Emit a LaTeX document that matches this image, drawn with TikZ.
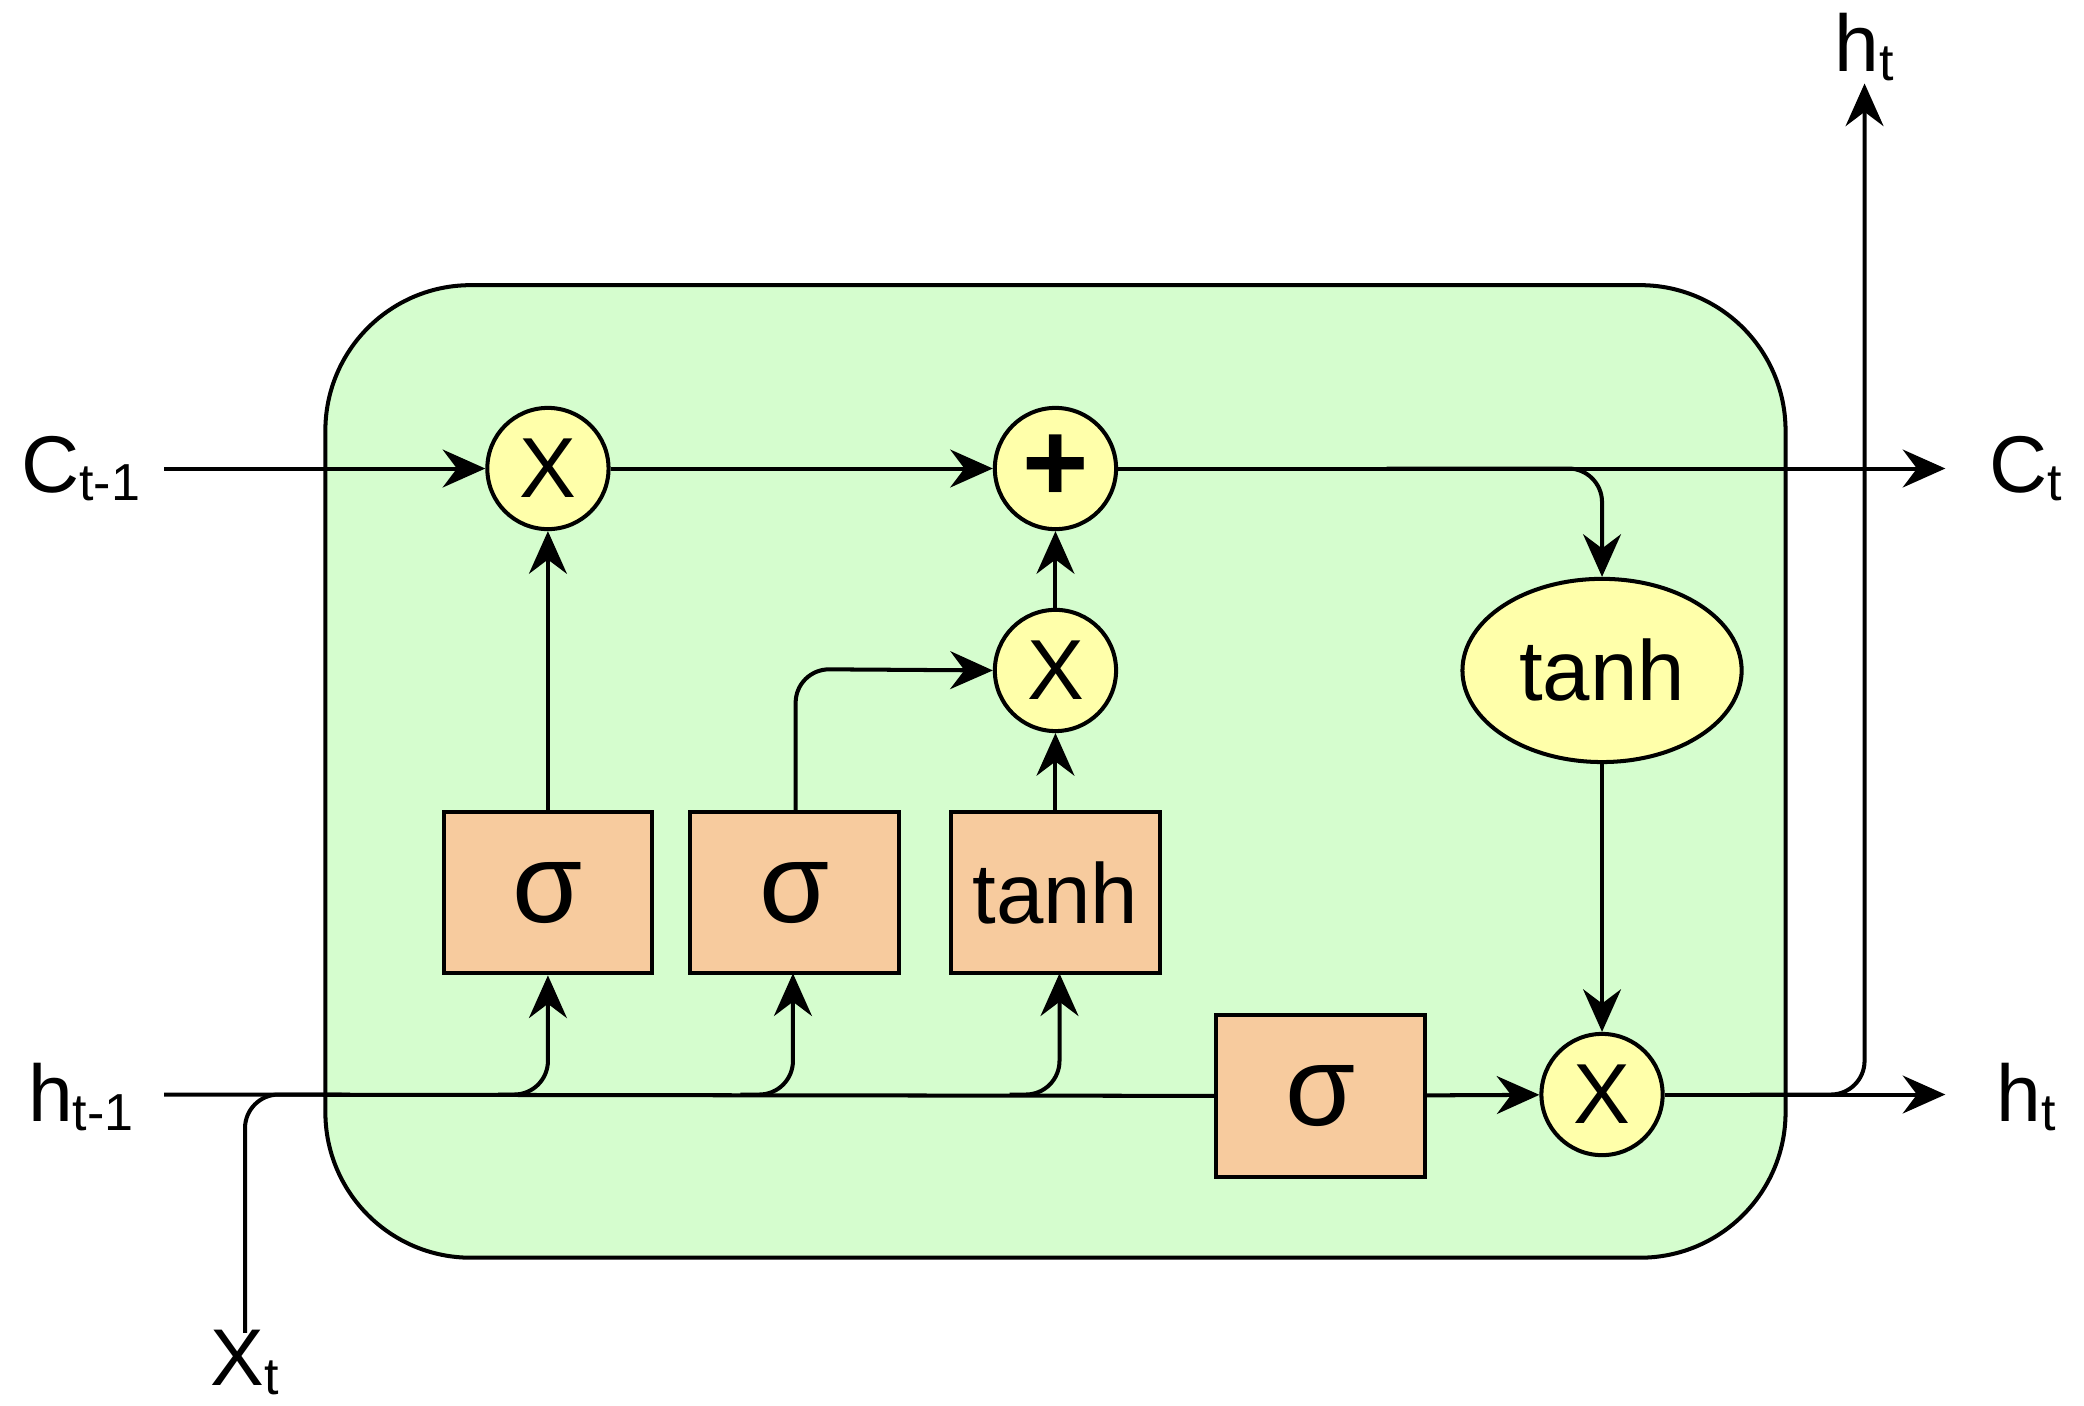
\documentclass[tikz,border=0pt]{standalone}
\usepackage{fontspec}
\setmainfont{Liberation Sans}
\usetikzlibrary{arrows.meta,shapes.geometric}
\definecolor{cellg}{HTML}{D5FDCE}
\definecolor{opy}{HTML}{FFFFAA}
\definecolor{gate}{HTML}{F7CB9E}
\newcommand{\sbs}[1]{\raisebox{-0.2ex}{\fontsize{11}{12}\selectfont #1}}
\begin{document}
\begin{tikzpicture}[x=0.01cm,y=-0.01cm,
  line width=0.85pt,
  ar/.style={-{Stealth[length=9pt,width=8pt,inset=3pt]}},
  op/.style={circle,draw,fill=opy,minimum size=0.9cm,inner sep=0pt,font=\fontsize{18}{20}\selectfont},
  gbox/.style={rectangle,draw,fill=gate,minimum width=1.55cm,minimum height=1.2cm,inner sep=0pt},
  lab/.style={font=\fontsize{17}{20}\selectfont,inner sep=0pt}]
\useasboundingbox (0,0) rectangle (1548,1044);
\node[draw,fill=cellg,rounded corners=1.08cm,minimum width=10.84cm,minimum height=7.22cm] (cell) at (784,573) {};
\node[op] (x1) at (407,348) {X};
\node[op,font=\fontsize{24}{26}\selectfont\bfseries] (plus) at (784,348) {+};
\node[op] (x2) at (784,498) {X};
\node[op] (x3) at (1190,813) {X};
\node[ellipse,draw,fill=opy,minimum width=1.8cm,minimum height=1.36cm,font=\fontsize{18}{20}\selectfont] (th) at (1190,498) {tanh};
\node[gbox,font=\fontsize{24}{26}\selectfont] (s1) at (407,663) {σ};
\node[gbox,font=\fontsize{24}{26}\selectfont] (s2) at (590,663) {σ};
\node[gbox,font=\fontsize{18}{20}\selectfont] (tb) at (784,663) {tanh};
\node[gbox,font=\fontsize{24}{26}\selectfont] (s3) at (981,814) {σ};
\node[lab] (cin) at (60,348) {C\sbs{t-1}};
\node[lab] (hin) at (60,815) {h\sbs{t-1}};
\node[lab] (xin) at (182,1012) {X\sbs{t}};
\node[lab] (cout) at (1505,348) {C\sbs{t}};
\node[lab] (hout) at (1505,815) {h\sbs{t}};
\node[lab] (htop) at (1385,35) {h\sbs{t}};
\coordinate (cs) at (122,348);
\coordinate (hs) at (122,813);
\coordinate (xs) at (182,990);
\coordinate (ce) at (1445,348);
\coordinate (he) at (1445,813);
\coordinate (te) at (1385,62);
\draw[ar] (cs) -- (x1);
\draw[ar] (x1) -- (plus);
\draw[ar] (plus) -- (ce);
\draw[ar,rounded corners=0.25cm] (1030,348) -- (1190,348) -- (th.north);
\draw[ar] (th) -- (x3);
\draw[ar] (s3) -- (x3);
\draw[ar] (x3) -- (he);
\draw[ar,rounded corners=0.25cm] (1300,813) -- (1385,813) -- (te);
\draw (hs) -- (s3.west);
\draw[rounded corners=0.25cm] (xs) -- (182,813) -- (260,813);
\draw[ar,rounded corners=0.25cm] (370,813) -- (407,813) -- (s1.south);
\draw[ar,rounded corners=0.25cm] (550,813) -- (589,813) -- (589,723);
\draw[ar,rounded corners=0.25cm] (750,813) -- (787,813) -- (787,723);
\draw[ar] (s1) -- (x1);
\draw[ar,rounded corners=0.25cm] (591,603) -- (591,497) -- (x2.west);
\draw[ar] (tb) -- (x2);
\draw[ar] (x2) -- (plus);
\end{tikzpicture}
\end{document}
